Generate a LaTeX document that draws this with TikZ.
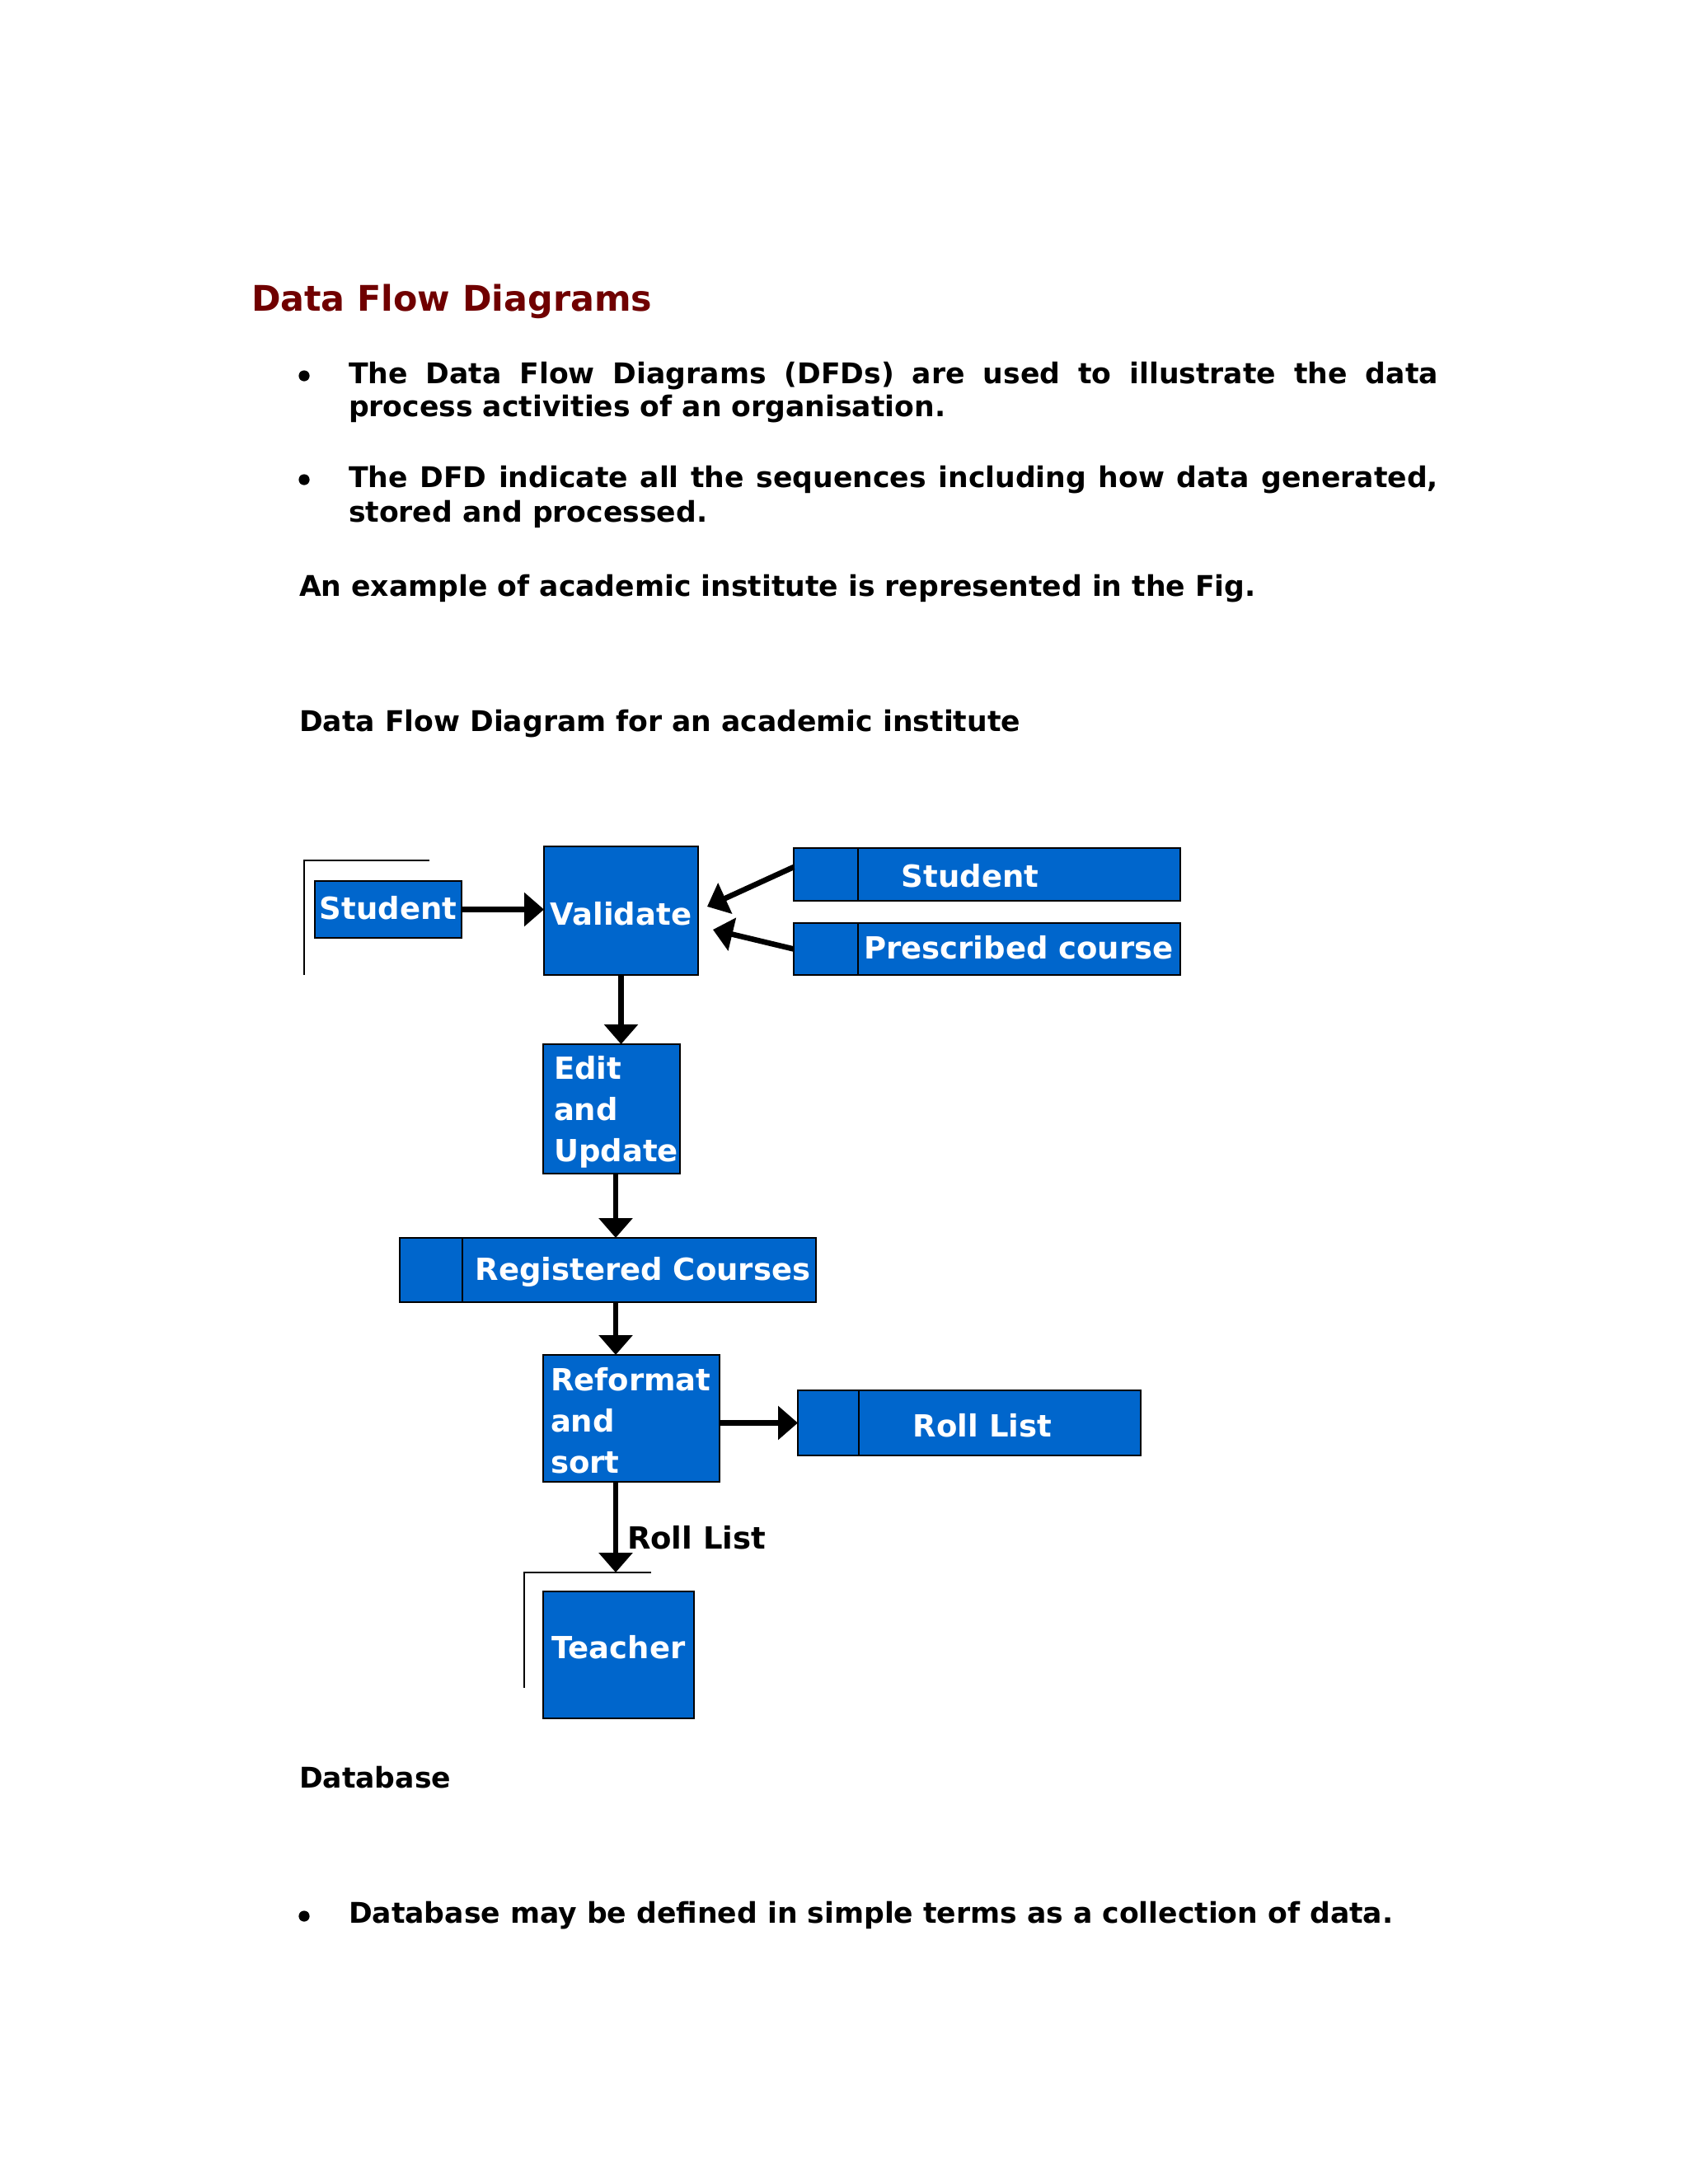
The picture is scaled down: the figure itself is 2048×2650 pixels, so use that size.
\documentclass[tikz,border=0pt]{standalone}
\usepackage{fontspec}
\setmainfont{DejaVu Sans}
\usetikzlibrary{arrows.meta}
\definecolor{dfdblue}{RGB}{0,102,204}
\definecolor{titlered}{RGB}{112,0,0}
\begin{document}
\begin{tikzpicture}[x=0.5pt,y=-0.5pt,
  every node/.style={inner sep=0pt, outer sep=0pt},
  body/.style={anchor=base west, font=\bfseries\fontsize{17.3pt}{20pt}\selectfont},
  titletext/.style={anchor=base west, text=titlered, font=\bfseries\fontsize{21.4pt}{25pt}\selectfont},
  proc/.style={draw=black, line width=1.4pt, fill=dfdblue},
  proctext/.style={anchor=base west, text=white, font=\bfseries\fontsize{18.5pt}{25pt}\selectfont},
  store/.style={draw=black, line width=1.4pt, fill=dfdblue},
  divider/.style={line width=1.4pt},
  storetext/.style={anchor=base, text=white, font=\bfseries\fontsize{18.5pt}{25pt}\selectfont},
  flowlabel/.style={anchor=base west, font=\bfseries\fontsize{18.5pt}{25pt}\selectfont},
  arr/.style={line width=3.3pt, -{Triangle[width=20pt,length=12pt]}},
  frameline/.style={line width=1pt},
  dot/.style={circle, fill=black, minimum size=6.6pt}]
\useasboundingbox (0,0) rectangle (2048,2650);
\fill[white] (0,0) rectangle (2048,2650);

% ---------- text ----------
\node[titletext] (title) at (305,377) {Data Flow Diagrams};
\node[dot] (bul1) at (369,456) {};
\node[body] (b1l1) at (423,465) {\makebox[661pt][s]{The Data Flow Diagrams (DFDs) are used to illustrate the data}};
\node[body] (b1l2) at (423,505) {process activities of an organisation.};
\node[dot] (bul2) at (369,582) {};
\node[body] (b2l1) at (423,591) {\makebox[661pt][s]{The DFD indicate all the sequences including how data generated,}};
\node[body] (b2l2) at (423,633) {stored and processed.};
\node[body] (ex) at (363,723) {An example of academic institute is represented in the Fig.};
\node[body] (cap) at (363,887) {Data Flow Diagram for an academic institute};
\node[body] (dbh) at (363,2169) {Database};
\node[dot] (bul3) at (369,2325) {};
\node[body] (b3l1) at (423,2333) {Database may be defined in simple terms as a collection of data.};

% ---------- diagram ----------
\coordinate (sl) at (369,1044);
\draw[frameline] (521,1044) -- (sl) -- (369,1183);
\node[proc, minimum width=89pt, minimum height=34.5pt] (ent1) at (471,1103.5) {};
\node[storetext] (ent1t) at (471,1115) {Student};

\node[proc, minimum width=93.5pt, minimum height=78pt] (val) at (753.5,1105) {};
\node[storetext] (valt) at (753.5,1122) {Validate};

\node[store, minimum width=234.5pt, minimum height=32pt] (st1) at (1197.5,1061) {};
\draw[divider] ([xshift=39pt]st1.north west) -- ([xshift=39pt]st1.south west);
\node[storetext] (st1t) at (1177,1076) {Student};

\node[store, minimum width=234.5pt, minimum height=31.5pt] (st2) at (1197.5,1151.5) {};
\draw[divider] ([xshift=39pt]st2.north west) -- ([xshift=39pt]st2.south west);
\node[storetext] (st2t) at (1236,1163) {Prescribed course};

\node[proc, minimum width=83pt, minimum height=78.5pt] (edit) at (742,1345.5) {};
\node[proctext] (editt1) at (672,1309) {Edit};
\node[proctext] (editt2) at (672,1359) {and};
\node[proctext] (editt3) at (672,1409) {Update};

\node[store, minimum width=252.5pt, minimum height=39pt] (reg) at (737.5,1541) {};
\draw[divider] ([xshift=38pt]reg.north west) -- ([xshift=38pt]reg.south west);
\node[storetext] (regt) at (780,1553) {Registered Courses};

\node[proc, minimum width=107pt, minimum height=77pt] (ref) at (766,1721) {};
\node[proctext] (reft1) at (668,1687) {Reformat};
\node[proctext] (reft2) at (668,1737) {and};
\node[proctext] (reft3) at (668,1787) {sort};

\node[store, minimum width=208pt, minimum height=39.5pt] (rl) at (1176,1726.5) {};
\draw[divider] ([xshift=37pt]rl.north west) -- ([xshift=37pt]rl.south west);
\node[storetext] (rlt) at (1192,1743) {Roll List};

\coordinate (tl) at (636,1908);
\draw[frameline] (790,1908) -- (tl) -- (636,2048);
\node[proc, minimum width=91.5pt, minimum height=77pt] (tch) at (750.5,2008) {};
\node[storetext] (tcht) at (750.5,2012) {Teacher};

\coordinate (cx) at (747,0);

% ---------- flows ----------
\draw[arr] (ent1.east) -- (ent1.east -| val.west);
\draw[arr] ([yshift=4.5pt]st1.west) -- ([shift={(11,-5)}]val.east);
\draw[arr] (st2.west) -- ([shift={(18,23)}]val.east);
\draw[arr] (val.south) -- (val.south |- edit.north);
\draw[arr] (edit.south -| cx) -- (reg.north -| cx);
\draw[arr] (reg.south -| cx) -- (ref.north -| cx);
\draw[arr] (ref.east |- rl.west) -- (rl.west);
\draw[arr] (ref.south -| cx) -- (cx |- tl);
\node[flowlabel] (rlab) at (761,1879) {Roll List};
\end{tikzpicture}
\end{document}
